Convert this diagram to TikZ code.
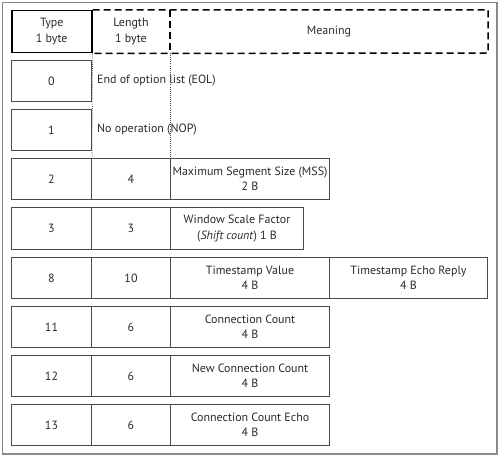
\documentclass[tikz,border=0pt]{standalone}
\usepackage{fontspec}
\setmainfont{PT Sans}
\definecolor{boxline}{HTML}{4A4A4A}
\definecolor{frameg}{HTML}{8A8A8A}
\definecolor{txt}{HTML}{2A2A2A}
\tikzset{
  cell/.style={draw=boxline, line width=1bp, minimum height=41bp, inner sep=0pt,
    anchor=north west, align=center, text=txt,
    font=\fontsize{12}{15.5}\selectfont},
  tcol/.style={cell, minimum width=80bp},
  lcol/.style={cell, minimum width=79bp},
  mcol/.style={cell, minimum width=159bp},
  plain/.style={anchor=west, inner sep=0pt, text=txt, font=\fontsize{12}{15.5}\selectfont},
  hdash/.style={draw=black, line width=1.5bp, dash pattern=on 7bp off 4bp},
  dotline/.style={draw=boxline, line width=0.7bp, dash pattern=on 0.8bp off 1.3bp},
}
\begin{document}
\begin{tikzpicture}[x=1bp, y=-1bp]
\useasboundingbox (0,0) rectangle (500,457);
\draw[frameg, line width=1.8bp] (2.5,2.5) rectangle (497,454);

% header
\node[cell, draw=black, line width=1.5bp, minimum width=80bp, minimum height=42bp] (hT) at (11,10) {Type\\1 byte};
\node[cell, draw=none, minimum width=79bp, minimum height=42bp] (hL) at (91,10) {Length\\1 byte};
\node[cell, draw=none, minimum width=317bp, minimum height=42bp] (hM) at (170,10) {Meaning};
\draw[hdash] (hT.north east) -- (hM.north east) -- (hM.south east) -- (hT.south east);
\draw[hdash] (hM.north west) -- (hM.south west);

% rows 0 and 1
\node[tcol] (t0) at (11,60) {0};
\node[plain] (d0) at (97,80.5) {End of option list (EOL)};
\node[tcol] (t1) at (11,109) {1};
\node[plain] (d1) at (97,129.5) {No operation (NOP)};

% row 2
\node[tcol] (t2) at (11,158) {2};
\node[lcol] (l2) at (91,158) {4};
\node[mcol] (m2) at (170,158) {Maximum Segment Size (MSS)\\2 B};

% dotted guides
\draw[dotline] (hT.south east) -- (t2.north east);
\draw[dotline] (hM.south west) -- (m2.north west);

% row 3
\node[tcol] (t3) at (11,207.5) {3};
\node[lcol] (l3) at (91,207.5) {3};
\node[cell, minimum width=133bp] (m3) at (170,207.5) {Window Scale Factor\\(\textit{Shift count}) 1 B};

% row 8
\node[tcol] (t8) at (11,257) {8};
\node[lcol] (l8) at (91,257) {10};
\node[mcol] (m8) at (170,257) {Timestamp Value\\4 B};
\node[cell, minimum width=158bp] (e8) at (329,257) {Timestamp Echo Reply\\4 B};

% row 11
\node[tcol] (t11) at (11,306) {11};
\node[lcol] (l11) at (91,306) {6};
\node[mcol] (m11) at (170,306) {Connection Count\\4 B};

% row 12
\node[tcol] (t12) at (11,355) {12};
\node[lcol] (l12) at (91,355) {6};
\node[mcol] (m12) at (170,355) {New Connection Count\\4 B};

% row 13
\node[tcol] (t13) at (11,404) {13};
\node[lcol] (l13) at (91,404) {6};
\node[mcol] (m13) at (170,404) {Connection Count Echo\\4 B};
\end{tikzpicture}
\end{document}
